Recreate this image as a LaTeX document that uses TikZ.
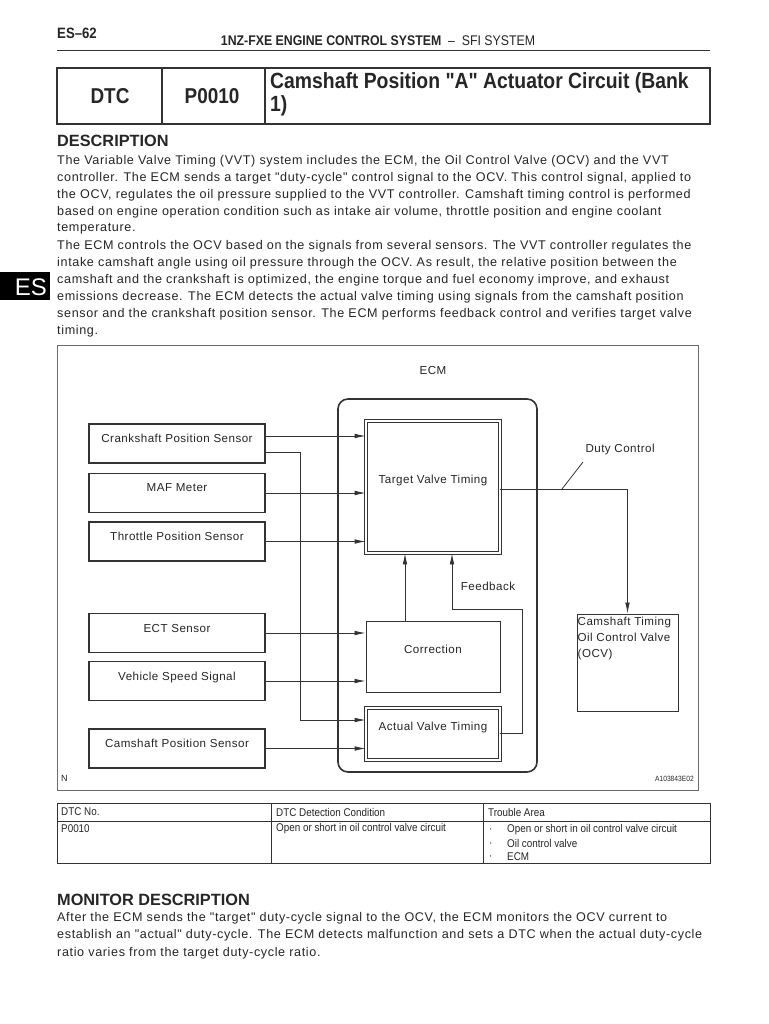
\documentclass[tikz,border=0pt]{standalone}
\usepackage{fontspec}
\setmainfont{Liberation Sans}
\newfontfamily\narrowfont[FakeStretch=0.88]{Liberation Sans}
\newfontfamily\spacedfont[LetterSpace=5]{Liberation Sans}
\newfontfamily\diagfont[LetterSpace=4]{Liberation Sans}
\usetikzlibrary{positioning,arrows.meta}
\definecolor{ink}{HTML}{262626}
\definecolor{line600}{HTML}{333333}
\definecolor{frame500}{HTML}{6b6b6b}
\tikzset{
  every node/.style={font=\diagfont\fontsize{11.6}{13}\selectfont, text=ink},
  bodyline/.style={anchor=west, inner sep=0pt, font=\spacedfont\fontsize{12.6}{15}\selectfont},
  heading/.style={anchor=west, inner sep=0pt, font=\fontsize{16.3}{18}\selectfont\bfseries},
  sensor/.style={
    rectangle, draw=line600, line width=1.6pt,
    minimum width=176, minimum height=39,
    text depth=10pt
  },
  ecmpart/.style={
    rectangle, draw=line600, line width=1pt,
    minimum width=134
  },
  twoline/.style={double=white, draw=line600, line width=0.8pt, double distance=1.6pt},
  sig/.style={
    -{Latex[length=11pt,width=4.6pt]},
    line width=0.8pt, draw=line600
  },
  wire/.style={line width=0.8pt, draw=line600},
  cell/.style={anchor=west, inner sep=0pt, font=\narrowfont\fontsize{11.2}{12}\selectfont},
}

\begin{document}
\begin{tikzpicture}[x=1pt, y=-1pt]
  \useasboundingbox[fill=white] (0,0) rectangle (768,1024);

  % page header
  \node[anchor=west, inner sep=0pt, font=\narrowfont\fontsize{15}{16}\selectfont\bfseries] (pageno) at (57,33) {ES–62};
  \node[inner sep=0pt, font=\narrowfont\fontsize{14}{16}\selectfont] (hdr) at (378,41) {\textbf{1NZ-FXE ENGINE CONTROL SYSTEM} \ – \ SFI SYSTEM};
  \draw[line width=1pt, line600] (57,51) -- (710,51);

  % DTC title table
  \draw[line width=1.8pt, line600] (57,68) rectangle (710,124);
  \draw[line width=1.8pt, line600] (162,68) -- (162,124);
  \draw[line width=1.8pt, line600] (265,68) -- (265,124);
  \node[font=\narrowfont\fontsize{21.5}{24}\selectfont\bfseries] (dtc) at (110,96) {DTC};
  \node[font=\narrowfont\fontsize{21.5}{24}\selectfont\bfseries] (code) at (212,96) {P0010};
  \node[anchor=west, inner sep=0pt, font=\narrowfont\fontsize{22}{24}\selectfont\bfseries] (ttl1) at (270,83) {Camshaft Position "A" Actuator Circuit (Bank};
  \node[anchor=west, inner sep=0pt, font=\narrowfont\fontsize{22}{24}\selectfont\bfseries] (ttl2) at (270,106) {1)};

  % description
  \node[heading] (desc) at (57,141) {DESCRIPTION};
  \foreach \txt [count=\i] in {
    {The Variable Valve Timing (VVT) system includes the ECM, the Oil Control Valve (OCV) and the VVT},
    {controller. The ECM sends a target "duty-cycle" control signal to the OCV. This control signal, applied to},
    {the OCV, regulates the oil pressure supplied to the VVT controller. Camshaft timing control is performed},
    {based on engine operation condition such as intake air volume, throttle position and engine coolant},
    {temperature.},
    {The ECM controls the OCV based on the signals from several sensors. The VVT controller regulates the},
    {intake camshaft angle using oil pressure through the OCV. As result, the relative position between the},
    {camshaft and the crankshaft is optimized, the engine torque and fuel economy improve, and exhaust},
    {emissions decrease. The ECM detects the actual valve timing using signals from the camshaft position},
    {sensor and the crankshaft position sensor. The ECM performs feedback control and verifies target valve},
    {timing.}}
    \node[bodyline] (d\i) at (57,144+17*\i) {\txt};

  % side tab
  \node[fill=black, minimum width=50, minimum height=28, inner sep=0pt] (tab) at (25,286) {};
  \node[anchor=east, inner sep=0pt, text=white, font=\fontsize{24}{24}\selectfont] (tabtxt) at (47,287) {ES};

  % block diagram
  \draw[line width=0.8pt, frame500] (57,345) rectangle (698,790);
  \node (ecmlbl) at (433,371) {ECM};
  \node[draw=line600, line width=1.6pt, rounded corners=10pt, minimum width=199, minimum height=373] (ecm) at (437.5,585.5) {};

  \node[ecmpart, twoline, minimum height=132, text depth=16pt] (tvt) at (433,487) {Target Valve Timing};
  \node[ecmpart, minimum height=71, text depth=15pt] (corr) at (433,656.5) {Correction};
  \node[ecmpart, twoline, minimum height=52, text depth=16pt] (avt) at (433,734) {Actual Valve Timing};

  \node[sensor] (crank) at (177,443.5) {Crankshaft Position Sensor};
  \node[sensor] (maf) at (177,493) {MAF Meter};
  \node[sensor] (tps) at (177,541.5) {Throttle Position Sensor};
  \node[sensor] (ect) at (177,633) {ECT Sensor};
  \node[sensor] (vss) at (177,681) {Vehicle Speed Signal};
  \node[sensor] (cam) at (177,748.5) {Camshaft Position Sensor};

  \node[draw=line600, line width=1pt, minimum width=101, minimum height=97,
        label={[anchor=north west, align=left, inner xsep=1pt, inner ysep=3pt, font=\diagfont\fontsize{11.6}{16}\selectfont]north west:Camshaft Timing\\Oil Control Valve\\(OCV)}] (ocv) at (627.5,662.5) {};

  \draw[sig] ([yshift=7.5]crank.east) coordinate (c1) -- (c1 -| tvt.west);
  \draw[sig] (maf.east) -- (maf.east -| tvt.west);
  \draw[sig] (tps.east) -- (tps.east -| tvt.west);
  \draw[sig] (ect.east) -- (ect.east -| corr.west);
  \draw[sig] (vss.east) -- (vss.east -| corr.west);
  \draw[sig] ([yshift=-8.5]crank.east) -| (300,720) -- ([yshift=14]avt.west);
  \draw[sig] (cam.east) -- (cam.east -| avt.west);

  \draw[sig] ([xshift=-28]corr.north) -- ([xshift=-28]tvt.south);
  \draw[sig] ([yshift=1]avt.east) -| (522,609) -| ([xshift=19]tvt.south);
  \node (fb) at (488,586) {Feedback};

  \draw[sig] ([yshift=-2]tvt.east) coordinate (tout) -| (ocv.north);
  \coordinate (dcfoot) at (562,489);
  \draw[wire] (dcfoot) -- (583,462);
  \node[anchor=west] (dclbl) at (582,449) {Duty Control};

  \node[anchor=west, inner sep=0pt, font=\fontsize{9}{10}\selectfont] (north) at (61,778) {N};
  \node[anchor=east, inner sep=0pt, font=\narrowfont\fontsize{7.6}{8}\selectfont] (fig) at (694,779) {A103843E02};

  % DTC detection table
  \draw[line width=0.7pt, line600] (57,803) rectangle (710,863);
  \draw[line width=0.7pt, line600] (57,821) -- (710,821);
  \draw[line width=0.7pt, line600] (271,803) -- (271,863);
  \draw[line width=0.7pt, line600] (483,803) -- (483,863);
  \node[cell] (h1) at (61,812) {DTC No.};
  \node[cell] (h2) at (276,812) {DTC Detection Condition};
  \node[cell] (h3) at (488,812) {Trouble Area};
  \node[cell] (r1) at (61,829) {P0010};
  \node[cell] (r2) at (276,829) {Open or short in oil control valve circuit};
  \foreach \txt [count=\i] in {{Open or short in oil control valve circuit},{Oil control valve},{ECM}} {
    \node[cell] (b\i) at (489,817.5+13.5*\i) {·};
    \node[cell] (t\i) at (507,816+13.5*\i) {\txt};
  }

  % monitor description
  \node[heading] (mon) at (57,900) {MONITOR DESCRIPTION};
  \foreach \txt [count=\i] in {
    {After the ECM sends the "target" duty-cycle signal to the OCV, the ECM monitors the OCV current to},
    {establish an "actual" duty-cycle. The ECM detects malfunction and sets a DTC when the actual duty-cycle},
    {ratio varies from the target duty-cycle ratio.}}
    \node[bodyline] (m\i) at (57,900.5+17.5*\i) {\txt};
\end{tikzpicture}
\end{document}
